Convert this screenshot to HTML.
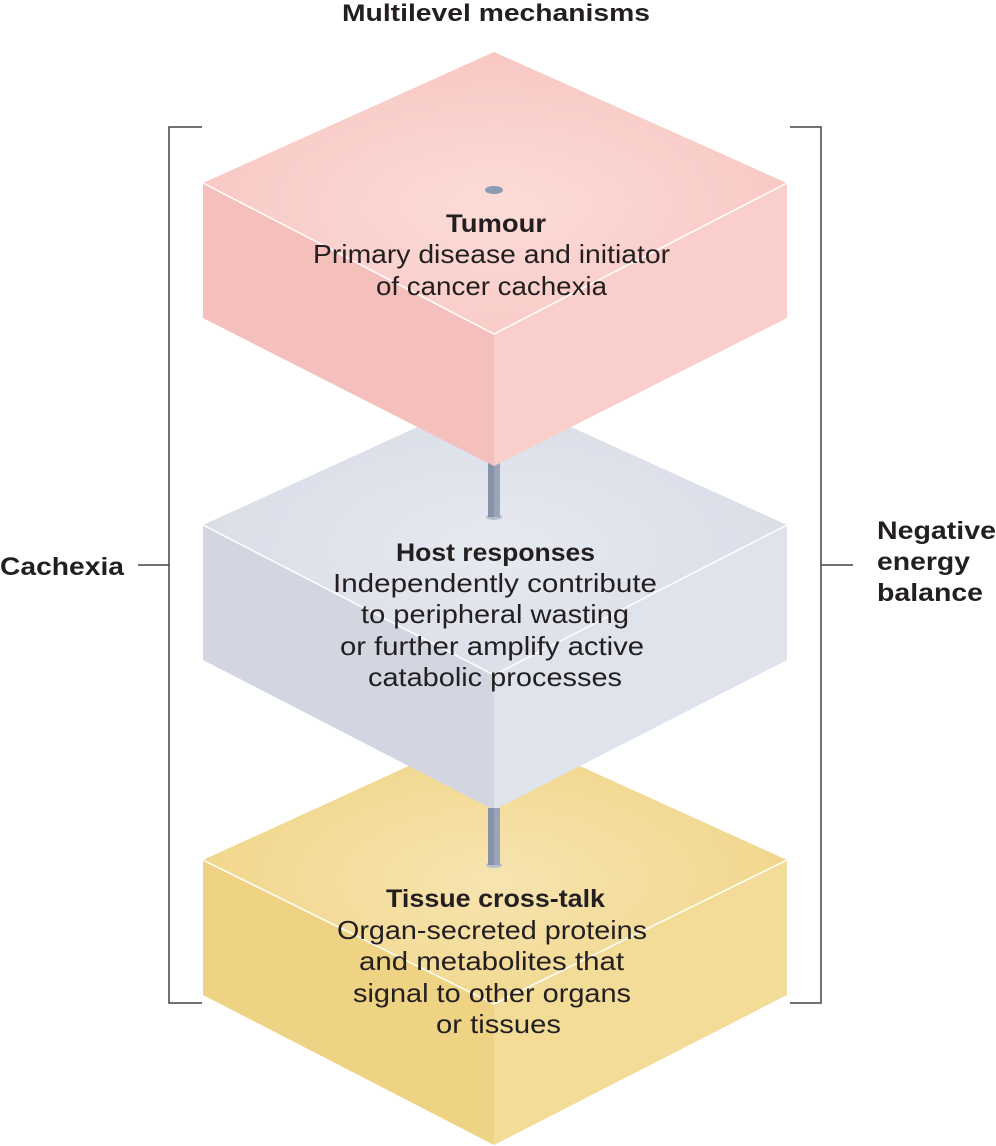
<!DOCTYPE html>
<html><head><meta charset="utf-8"><style>
html,body{margin:0;padding:0;background:#fff}
svg{display:block}
text{font-family:"Liberation Sans",sans-serif;fill:#231f20}
.b{font-weight:bold}
</style></head><body>
<svg width="996" height="1146" viewBox="0 0 996 1146" xmlns="http://www.w3.org/2000/svg">
<defs>
<radialGradient id="pt" cx="0.5" cy="0.55" r="0.6"><stop offset="0" stop-color="#fcdcd8"/><stop offset="1" stop-color="#f8c6c1"/></radialGradient>
<radialGradient id="gt" cx="0.5" cy="0.55" r="0.6"><stop offset="0" stop-color="#e6e9f0"/><stop offset="1" stop-color="#d8dce6"/></radialGradient>
<radialGradient id="yt" cx="0.5" cy="0.55" r="0.6"><stop offset="0" stop-color="#f7e4b0"/><stop offset="1" stop-color="#f0d486"/></radialGradient>
</defs>

<g stroke="#444" stroke-width="1.5" fill="none">
<polyline points="202,127 169,127 169,1003 202,1003"/>
<line x1="138" y1="565" x2="169" y2="565"/>
<polyline points="790,127 821,127 821,1003 790,1003"/>
<line x1="821" y1="565" x2="853" y2="565"/>
</g>

<g>
<polygon points="203,860 494,727 787,860 494,1004" fill="url(#yt)"/>
<polygon points="203,860 494,1004 494,1145 203,995" fill="#efd384"/>
<polygon points="494,1004 787,860 787,995 494,1145" fill="#f3db98"/>
<polyline points="203,860 494,1004 787,860" stroke="#fff" stroke-width="1.5" fill="none"/>
</g>

<g>
<polygon points="203,525 494,392 787,525 494,675" fill="url(#gt)"/>
<polygon points="203,525 494,675 494,810 203,660" fill="#d2d6e1"/>
<polygon points="494,675 787,525 787,660 494,810" fill="#dfe3eb"/>
<polyline points="203,525 494,675 787,525" stroke="#fff" stroke-width="1.5" fill="none"/>
</g>
<ellipse cx="494" cy="865" rx="8" ry="3" fill="#b8bfcc"/>
<rect x="488" y="808" width="12" height="57" fill="#8793a8"/>
<rect x="494" y="808" width="6" height="57" fill="#9aa5b8"/>

<ellipse cx="494" cy="517" rx="8" ry="3" fill="#b8bfcc"/>
<rect x="488" y="462" width="12" height="55" fill="#8793a8"/>
<rect x="494" y="462" width="6" height="55" fill="#9aa5b8"/>

<g>
<polygon points="203,183 494,52 787,183 494,334" fill="url(#pt)"/>
<polygon points="203,183 494,334 494,466 203,318" fill="#f5bfbc"/>
<polygon points="494,334 787,183 787,318 494,466" fill="#facfcb"/>
<polyline points="203,183 494,334 787,183" stroke="#fff" stroke-width="1.5" fill="none"/>
<ellipse cx="494" cy="190" rx="9" ry="4" fill="#8a9ab0"/>
</g>

<g lengthAdjust="spacingAndGlyphs">
<text x="342" y="21" class="b" font-size="24" textLength="308" lengthAdjust="spacingAndGlyphs">Multilevel mechanisms</text>

<text x="446" y="232" class="b" font-size="25" textLength="100" lengthAdjust="spacingAndGlyphs">Tumour</text>
<text x="313" y="263" font-size="26" textLength="357" lengthAdjust="spacingAndGlyphs">Primary disease and initiator</text>
<text x="376" y="295" font-size="26" textLength="231" lengthAdjust="spacingAndGlyphs">of cancer cachexia</text>

<text x="396" y="561" class="b" font-size="25" textLength="199" lengthAdjust="spacingAndGlyphs">Host responses</text>
<text x="333" y="592" font-size="26" textLength="324" lengthAdjust="spacingAndGlyphs">Independently contribute</text>
<text x="361" y="623" font-size="26" textLength="268" lengthAdjust="spacingAndGlyphs">to peripheral wasting</text>
<text x="340" y="655" font-size="26" textLength="304" lengthAdjust="spacingAndGlyphs">or further amplify active</text>
<text x="368" y="686" font-size="26" textLength="254" lengthAdjust="spacingAndGlyphs">catabolic processes</text>

<text x="386" y="907" class="b" font-size="25" textLength="219" lengthAdjust="spacingAndGlyphs">Tissue cross-talk</text>
<text x="337" y="939" font-size="26" textLength="310" lengthAdjust="spacingAndGlyphs">Organ-secreted proteins</text>
<text x="359" y="970" font-size="26" textLength="265" lengthAdjust="spacingAndGlyphs">and metabolites that</text>
<text x="353" y="1002" font-size="26" textLength="278" lengthAdjust="spacingAndGlyphs">signal to other organs</text>
<text x="436" y="1033" font-size="26" textLength="125" lengthAdjust="spacingAndGlyphs">or tissues</text>

<text x="0" y="575" class="b" font-size="25" textLength="124" lengthAdjust="spacingAndGlyphs">Cachexia</text>
<text x="877" y="539" class="b" font-size="25" textLength="119" lengthAdjust="spacingAndGlyphs">Negative</text>
<text x="877" y="570" class="b" font-size="25" textLength="93" lengthAdjust="spacingAndGlyphs">energy</text>
<text x="877" y="601" class="b" font-size="25" textLength="106" lengthAdjust="spacingAndGlyphs">balance</text>
</g>
</svg>
</body></html>
